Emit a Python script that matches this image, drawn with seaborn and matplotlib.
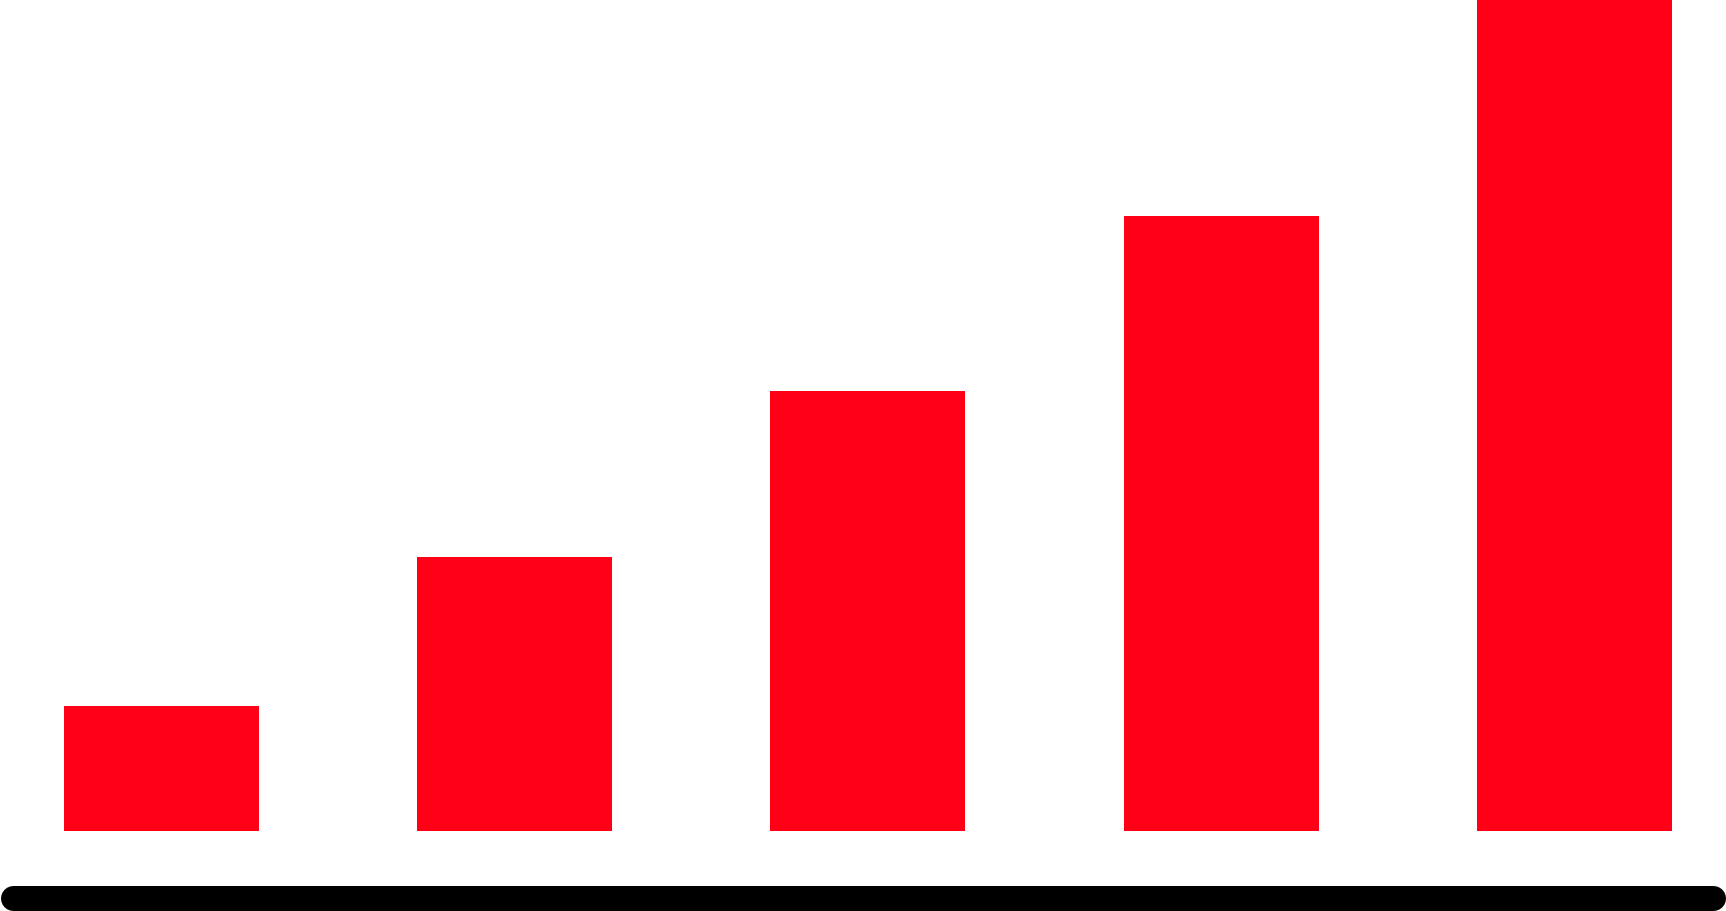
import matplotlib
matplotlib.use('Agg')
import matplotlib.pyplot as plt
import seaborn as sns
import pandas as pd

# ── data ──────────────────────────────────────────────
categories = ['A', 'B', 'C', 'D', 'E']
values = [15, 33, 53, 74, 100]

df = pd.DataFrame({'cat': categories, 'val': values})

# ── plot ──────────────────────────────────────────────
sns.set_style('white')
fig = plt.figure(figsize=(17.26, 9.11), dpi=100)
ax = fig.add_axes([0, 0, 1, 1])

sns.barplot(data=df, x='cat', y='val', color='#ff0016', saturation=1,
            width=0.552, linewidth=0, ax=ax)

ax.set_xlim(-0.458, 4.430)
ax.set_ylim(-9.63, 100)
ax.axis('off')

# baseline with rounded ends
ax.plot([0.0078, 0.9922], [0.0148, 0.0148], transform=ax.transAxes,
        color='black', lw=18, solid_capstyle='round', clip_on=False)

fig.savefig('out.png', dpi=100)
plt.close(fig)
